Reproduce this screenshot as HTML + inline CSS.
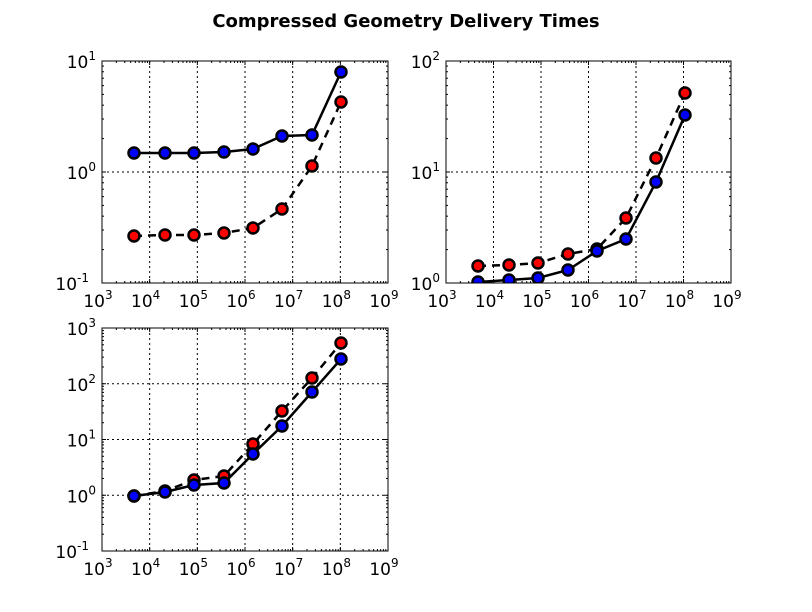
<!DOCTYPE html>
<html><head><meta charset="utf-8"><style>
body{margin:0;background:#fff}
svg{display:block}
text{font-family:"DejaVu Sans","Liberation Sans",sans-serif;fill:#000}
</style></head><body>
<svg id="s" width="812" height="612" xmlns="http://www.w3.org/2000/svg">
<rect width="812" height="612" fill="#fff"/>
<text x="406" y="27" text-anchor="middle" font-size="18" font-weight="bold">Compressed Geometry Delivery Times</text>
</svg>
<script>
const S=document.getElementById('s');const NS='http://www.w3.org/2000/svg';
function el(t,a,p){const e=document.createElementNS(NS,t);for(const k in a)e.setAttribute(k,a[k]);(p||S).appendChild(e);return e;}
function lab(x,y,exp,anchor){const t=el('text',{x:x,y:y,'font-size':17,'text-anchor':anchor});
 t.appendChild(document.createTextNode('10'));const s=el('tspan',{dy:-8,'font-size':12},t);s.textContent=exp;return t;}
const xs0=[134,165,194,224,253,282,312,341];
function axes(L,R,T,B,ylo,yhi,blue,red){
 const xs=xs0.map(x=>x+(L-102));
 const nx=6,ny=yhi-ylo;const dx=(R-L)/nx,dy=(B-T)/ny;
 for(let i=1;i<nx;i++){const x=L+i*dx;el('line',{x1:x,y1:T,x2:x,y2:B,stroke:'#000','stroke-width':1,'stroke-dasharray':'2,3'});}
 for(let j=1;j<ny;j++){const y=B-j*dy;el('line',{x1:L,y1:y,x2:R,y2:y,stroke:'#000','stroke-width':1,'stroke-dasharray':'2,3'});}
 for(let i=0;i<=nx;i++){const x=L+i*dx;
  el('line',{x1:x,y1:B,x2:x,y2:B-4,stroke:'#000'});el('line',{x1:x,y1:T,x2:x,y2:T+4,stroke:'#000'});
  lab(x-4,B+24,String(3+i),'middle');
  if(i<nx)for(let m=2;m<10;m++){const xm=x+Math.log10(m)*dx;
   el('line',{x1:xm,y1:B,x2:xm,y2:B-2,stroke:'#000'});el('line',{x1:xm,y1:T,x2:xm,y2:T+2,stroke:'#000'});}}
 for(let j=0;j<=ny;j++){const y=B-j*dy;
  el('line',{x1:L,y1:y,x2:L+4,y2:y,stroke:'#000'});el('line',{x1:R,y1:y,x2:R-4,y2:y,stroke:'#000'});
  const e=ylo+j;lab(L-6-(String(e).length>1?7:0),y+7,String(e),'end');
  if(j<ny)for(let m=2;m<10;m++){const ym=y-Math.log10(m)*dy;
   el('line',{x1:L,y1:ym,x2:L+2,y2:ym,stroke:'#000'});el('line',{x1:R,y1:ym,x2:R-2,y2:ym,stroke:'#000'});}}
 const cp=el('clipPath',{id:'c'+L+'_'+T});el('rect',{x:L,y:T,width:R-L,height:B-T},cp);
 const g=el('g',{'clip-path':'url(#c'+L+'_'+T+')'});
 function series(ys,col,dash){el('polyline',{points:xs.map((x,i)=>x+','+ys[i]).join(' '),fill:'none',stroke:'#000','stroke-width':2.5,'stroke-dasharray':dash},g);
  ys.forEach((y,i)=>el('circle',{cx:xs[i],cy:y,r:5.5,fill:col,stroke:'#000','stroke-width':2.5},g));}
 series(red,'#f00','8,6');series(blue,'#00f','none');
 el('rect',{x:L,y:T,width:R-L,height:B-T,fill:'none',stroke:'#000','stroke-width':1});
}
axes(102,388,61,283,-1,1,[153,153,153,152,149,136,135,72],[236,235,235,233,228,209,166,102]);
axes(446,731,61,283,0,2,[282,280,278,270,251,239,182,115],[266,265,263,254,249,218,158,93]);
axes(102,388,328,551,-1,3,[496,492,485,483,454,426,392,359],[496,491,480,476,444,411,378,343]);
</script>
</body></html>
